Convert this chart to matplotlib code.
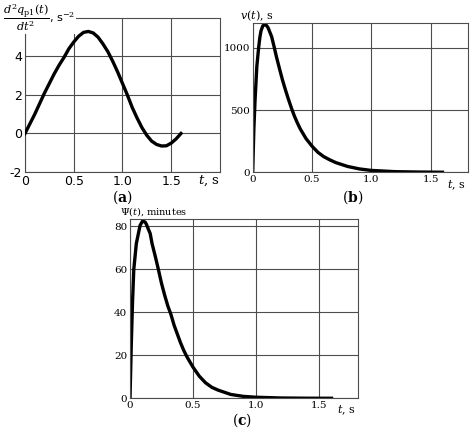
import numpy as np
import matplotlib
matplotlib.use("Agg")
import matplotlib.pyplot as plt

plt.rcParams['mathtext.fontset'] = 'dejavuserif'
plt.rcParams['axes.unicode_minus'] = False

# (a) second derivative of q_p1, s^-2
t_a = [0, 0.05, 0.1, 0.15, 0.2, 0.25, 0.3, 0.35, 0.4, 0.45, 0.5, 0.55, 0.6, 0.65,
       0.7, 0.75, 0.8, 0.85, 0.9, 0.95, 1.0, 1.05, 1.1, 1.15, 1.2, 1.25, 1.3,
       1.35, 1.4, 1.45, 1.5, 1.55, 1.6]
acc = [0, 0.5, 1.0, 1.55, 2.1, 2.6, 3.1, 3.55, 3.95, 4.4, 4.75, 5.05, 5.25, 5.3,
       5.22, 5.0, 4.65, 4.25, 3.75, 3.2, 2.6, 2.0, 1.35, 0.8, 0.3, -0.1, -0.4,
       -0.57, -0.65, -0.64, -0.5, -0.28, 0]

# (b) v(t), s
t_b = [0, 0.01, 0.02, 0.035, 0.05, 0.06, 0.07, 0.085, 0.1, 0.115, 0.13, 0.16,
       0.18, 0.2, 0.225, 0.25, 0.275, 0.3, 0.325, 0.35, 0.375, 0.4, 0.45, 0.5,
       0.55, 0.6, 0.65, 0.7, 0.8, 0.9, 1.0, 1.2, 1.4, 1.6]
v = [0, 350, 580, 850, 1000, 1080, 1135, 1175, 1188, 1180, 1160, 1088,
     1010, 928, 835, 745, 665, 590, 520, 455, 400, 350, 270, 210,
     160, 125, 100, 78, 47, 27, 15, 5, 2, 0.5]

# (c) Psi(t), minutes
t_c = [0, 0.01, 0.02, 0.03, 0.05, 0.08, 0.1, 0.12, 0.13, 0.14, 0.16, 0.175,
       0.2, 0.225, 0.25, 0.275, 0.3, 0.325, 0.35, 0.375, 0.4, 0.425, 0.45, 0.5,
       0.55, 0.6, 0.65, 0.7, 0.8, 0.9, 1.0, 1.2, 1.4, 1.6]
psi = [0, 25, 45, 60, 72, 80.5, 82.5, 82, 81, 79.5, 76.7, 72,
       66.2, 60, 53.5, 48, 43, 39, 34, 30, 26, 22.5, 19.5, 14.5,
       10.3, 7.2, 5.1, 3.8, 1.8, 0.9, 0.5, 0.15, 0.05, 0.02]

grid_c = '#4d4d4d'


def style(ax, xt, yt, fam, fs):
    ax.set_xticks(xt)
    ax.set_yticks(yt)
    ax.grid(True, color=grid_c, lw=0.8)
    ax.tick_params(length=0, pad=2, labelsize=fs)
    for lab in ax.get_xticklabels() + ax.get_yticklabels():
        lab.set_family(fam)
    for s in ax.spines.values():
        s.set_color(grid_c)
        s.set_linewidth(0.8)


fig = plt.figure(figsize=(4.74, 4.33), dpi=100)

ax1 = fig.add_axes([0.0527, 0.6028, 0.4114, 0.3557])
ax1.plot(t_a, acc, color='black', lw=2.4, zorder=4)
ax1.set_xlim(0, 2)
ax1.set_ylim(-2, 6)
style(ax1, [0, 0.5, 1.0, 1.5], [-2, 0, 2, 4], 'DejaVu Sans', 9)
ax1.set_xticklabels(['0', '0.5', '1.0', '1.5'])
ax1.text(1.0, -0.055, r'$t$, s', transform=ax1.transAxes, ha='right', va='center',
         family='DejaVu Serif', fontsize=9.5)
ax1.text(-0.115, 1.0, r'$\dfrac{d^2q_{\rm p1}(t)}{dt^2}$' + r', s$^{-2}$',
         transform=ax1.transAxes, ha='left', va='center', fontsize=8.2,
         bbox=dict(fc='white', ec='none', pad=0.5))
fig.text(0.258, 0.545, r'($\mathbf{a}$)', ha='center', va='center', fontsize=10,
         family='DejaVu Serif')

ax2 = fig.add_axes([0.5331, 0.6021, 0.4542, 0.3441])
ax2.plot(t_b, v, color='black', lw=2.4)
ax2.set_xlim(0, 1.815)
ax2.set_ylim(0, 1196)
style(ax2, [0, 0.5, 1.0, 1.5], [0, 500, 1000], 'DejaVu Serif', 7.5)
ax2.set_xticklabels(['0', '0.5', '1.0', '1.5'])
ax2.text(0.99, -0.04, r'$t$, s', transform=ax2.transAxes, ha='right', va='top',
         family='DejaVu Serif', fontsize=8)
ax2.text(-0.06, 1.005, r'$v(t)$, s', transform=ax2.transAxes, ha='left',
         va='bottom', family='DejaVu Serif', fontsize=8)
fig.text(0.745, 0.545, r'($\mathbf{b}$)', ha='center', va='center', fontsize=10,
         family='DejaVu Serif')

ax3 = fig.add_axes([0.2743, 0.0801, 0.481, 0.4134])
ax3.plot(t_c, psi, color='black', lw=2.4)
ax3.set_xlim(0, 1.81)
ax3.set_ylim(0, 83.3)
style(ax3, [0, 0.5, 1.0, 1.5], [0, 20, 40, 60, 80], 'DejaVu Serif', 7.5)
ax3.set_xticklabels(['0', '0.5', '1.0', '1.5'])
ax3.text(0.99, -0.03, r'$t$, s', transform=ax3.transAxes, ha='right', va='top',
         family='DejaVu Serif', fontsize=8)
ax3.text(-0.045, 1.01, r'$\Psi(t)$, minutes', transform=ax3.transAxes, ha='left',
         va='bottom', family='DejaVu Serif', fontsize=7)
fig.text(0.511, 0.03, r'($\mathbf{c}$)', ha='center', va='center', fontsize=10,
         family='DejaVu Serif')

fig.savefig('out.png', dpi=100)
